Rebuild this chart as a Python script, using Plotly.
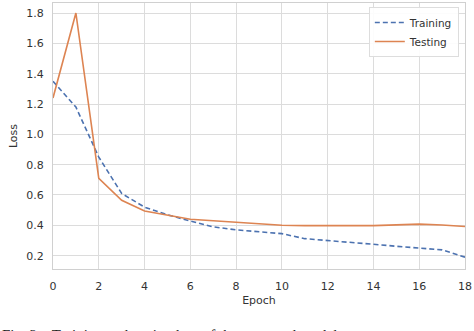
import plotly.graph_objects as go

epochs = list(range(19))
training = [1.35, 1.18, 0.85, 0.61, 0.52, 0.47, 0.428, 0.39, 0.37, 0.357, 0.345,
            0.312, 0.298, 0.286, 0.275, 0.262, 0.25, 0.238, 0.19]
testing = [1.24, 1.80, 0.71, 0.565, 0.495, 0.465, 0.44, 0.43, 0.42, 0.41, 0.40,
           0.398, 0.397, 0.395, 0.398, 0.403, 0.408, 0.402, 0.392]
x_ticks = list(range(0, 19, 2))
y_ticks = [0.2, 0.4, 0.6, 0.8, 1.0, 1.2, 1.4, 1.6, 1.8]
caption = "Fig. 2.   Training and testing loss of the proposed model."

fig = go.Figure()
fig.add_trace(go.Scatter(x=epochs, y=training, mode="lines", name="Training",
                         line=dict(color="#4c72b0", width=1.6, dash="5px,3px")))
fig.add_trace(go.Scatter(x=epochs, y=testing, mode="lines", name="Testing",
                         line=dict(color="#dd8452", width=1.6)))

axis_font = dict(family="DejaVu Sans", size=11, color="#333333")
fig.update_layout(
    width=474, height=331,
    margin=dict(l=53, r=9, t=3, b=62),
    paper_bgcolor="white", plot_bgcolor="white",
    font=axis_font,
    showlegend=True,
    legend=dict(x=0.985, y=0.985, xanchor="right", yanchor="top",
                bgcolor="rgba(255,255,255,0.9)", bordercolor="#dddddd", borderwidth=1,
                font=dict(family="DejaVu Sans", size=10.5, color="#333333"),
                tracegroupgap=0, itemwidth=30),
    xaxis=dict(range=[0, 18], tickvals=x_ticks, showgrid=True, gridcolor="#dcdcdc",
               gridwidth=1, zeroline=False, showline=True, linecolor="#d0d0d0",
               mirror=True, ticks="", ticklabelstandoff=7,
               title=dict(text="Epoch", standoff=4, font=axis_font)),
    yaxis=dict(range=[0.112, 1.866], tickvals=y_ticks, tickformat=".1f", showgrid=True,
               gridcolor="#dcdcdc", gridwidth=1, zeroline=False, showline=True,
               linecolor="#d0d0d0", mirror=True, ticks="", ticklabelstandoff=6,
               title=dict(text="Loss", standoff=6, font=axis_font)),
    annotations=[dict(text=caption, xref="paper", yref="paper", x=-53/412, y=(269-325)/266,
                      xanchor="left", yanchor="top", showarrow=False,
                      font=dict(family="Liberation Serif", size=15, color="#222222"))],
)

fig.write_html("out.html")
